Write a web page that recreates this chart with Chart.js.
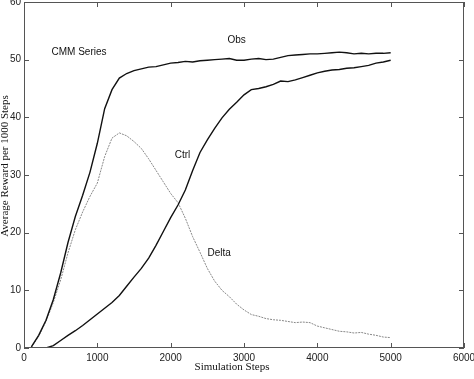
<!DOCTYPE html>
<html>
<head>
<meta charset="utf-8">
<script src="https://cdn.jsdelivr.net/npm/chart.js@4.4.0/dist/chart.umd.min.js"></script>
<style>
  body { margin: 0; background: #fff; }
  canvas { display: block; }
</style>
</head>
<body>
<canvas id="myChart" width="474" height="379"></canvas>
<script>
// simulation steps for every sample, 100 .. 5000
const steps = [];
for (let s = 100; s <= 5000; s += 100) steps.push(s);

const obsValues = [
  0.2, 2.2, 4.8, 8.4, 13.0, 18.3, 22.8, 26.5, 30.5, 35.5,
  41.5, 44.8, 46.8, 47.6, 48.1, 48.4, 48.7, 48.8, 49.1, 49.4,
  49.5, 49.7, 49.6, 49.8, 49.9, 50.0, 50.1, 50.2, 49.9, 49.9,
  50.1, 50.2, 50.0, 50.1, 50.4, 50.7, 50.8, 50.9, 51.0, 51.0,
  51.1, 51.2, 51.3, 51.2, 51.0, 51.1, 51.0, 51.1, 51.1, 51.2
];

const ctrlValues = [
  null, null, 0.0, 0.4, 1.3, 2.2, 3.0, 3.9, 4.9, 5.9,
  6.9, 7.9, 9.1, 10.7, 12.3, 13.8, 15.6, 17.8, 20.2, 22.6,
  24.8, 27.4, 30.8, 33.9, 36.1, 38.1, 39.9, 41.4, 42.6, 43.9,
  44.8, 45.0, 45.3, 45.7, 46.3, 46.2, 46.5, 46.9, 47.3, 47.7,
  48.0, 48.2, 48.3, 48.5, 48.6, 48.8, 49.0, 49.4, 49.6, 49.9
];

const deltaValues = [
  0.1, 2.0, 4.6, 7.9, 11.8, 16.5, 20.5, 23.6, 26.3, 28.6,
  33.2, 36.4, 37.3, 36.8, 35.8, 34.6, 32.8, 30.8, 28.8, 26.8,
  25.2, 22.5, 19.3, 16.6, 13.8, 11.6, 10.0, 8.9, 7.6, 6.6,
  5.8, 5.5, 5.1, 4.9, 4.8, 4.6, 4.4, 4.5, 4.4, 3.8,
  3.5, 3.2, 2.9, 2.8, 2.6, 2.7, 2.4, 2.2, 1.9, 1.8
];

const xTicks = [0, 1000, 2000, 3000, 4000, 5000, 6000];
const yTicks = [0, 10, 20, 30, 40, 50, 60];

const labels = [
  { text: "CMM Series", x: 375, y: 51.3, align: "left" },
  { text: "Obs", x: 2900, y: 53.3, align: "center" },
  { text: "Ctrl", x: 2162, y: 33.4, align: "center" },
  { text: "Delta", x: 2503, y: 16.4, align: "left" }
];

const toPoints = (vals) => steps.map((s, i) => ({ x: s, y: vals[i] }));

// frame, inward ticks, titles and curve labels
const framePlugin = {
  id: "frame",
  afterDraw(chart) {
    const { ctx, chartArea: a, scales } = chart;
    ctx.save();
    ctx.strokeStyle = "#555";
    ctx.lineWidth = 1;
    ctx.strokeRect(a.left + 0.5, a.top + 0.5, a.right - a.left - 1, a.bottom - a.top - 1);
    ctx.beginPath();
    xTicks.forEach(v => {
      const px = Math.round(scales.x.getPixelForValue(v)) + 0.5;
      ctx.moveTo(px, a.bottom); ctx.lineTo(px, a.bottom - 5);
      ctx.moveTo(px, a.top); ctx.lineTo(px, a.top + 5);
    });
    yTicks.forEach(v => {
      const py = Math.round(scales.y.getPixelForValue(v)) + 0.5;
      ctx.moveTo(a.left, py); ctx.lineTo(a.left + 5, py);
      ctx.moveTo(a.right, py); ctx.lineTo(a.right - 5, py);
    });
    ctx.stroke();

    ctx.fillStyle = "#111";
    ctx.font = "10px 'Liberation Sans', Arial, sans-serif";
    ctx.textBaseline = "middle";
    labels.forEach(l => {
      ctx.textAlign = l.align;
      ctx.fillText(l.text, scales.x.getPixelForValue(l.x), scales.y.getPixelForValue(l.y));
    });

    ctx.font = "11px 'Liberation Serif', 'Times New Roman', serif";
    ctx.textAlign = "center";
    ctx.fillText("Simulation Steps", 232, 367);
    ctx.translate(5, 166);
    ctx.rotate(-Math.PI / 2);
    ctx.fillText("Average Reward per 1000 Steps", 0, 0);
    ctx.restore();
  }
};

const tickFont = { family: "'Liberation Sans', Arial, sans-serif", size: 10 };

new Chart(document.getElementById("myChart"), {
  type: "line",
  data: {
    datasets: [
      { label: "Obs", data: toPoints(obsValues), borderColor: "#111", borderWidth: 1.4 },
      { label: "Ctrl", data: toPoints(ctrlValues), borderColor: "#111", borderWidth: 1.4 },
      { label: "Delta", data: toPoints(deltaValues), borderColor: "#888", borderWidth: 1, borderDash: [2, 1] }
    ]
  },
  options: {
    responsive: false,
    animation: false,
    layout: { padding: { top: 2, right: 10, left: 0, bottom: 0 } },
    elements: { point: { radius: 0 }, line: { tension: 0 } },
    plugins: { legend: { display: false }, tooltip: { enabled: false } },
    scales: {
      x: {
        type: "linear", min: 0, max: 6000,
        afterBuildTicks: s => { s.ticks = xTicks.map(v => ({ value: v })); },
        afterFit: s => { s.height = 31; s.paddingLeft = 0; s.paddingRight = 0; },
        grid: { display: false, drawTicks: false },
        border: { display: false },
        ticks: { font: tickFont, color: "#222", padding: 4, maxRotation: 0, callback: v => String(v) }
      },
      y: {
        min: 0, max: 60,
        afterBuildTicks: s => { s.ticks = yTicks.map(v => ({ value: v })); },
        afterFit: s => { s.width = 24; s.paddingTop = 0; s.paddingBottom = 0; },
        grid: { display: false, drawTicks: false },
        border: { display: false },
        ticks: { font: tickFont, color: "#222", padding: 3, callback: v => String(v) }
      }
    }
  },
  plugins: [framePlugin]
});
</script>
</body>
</html>
